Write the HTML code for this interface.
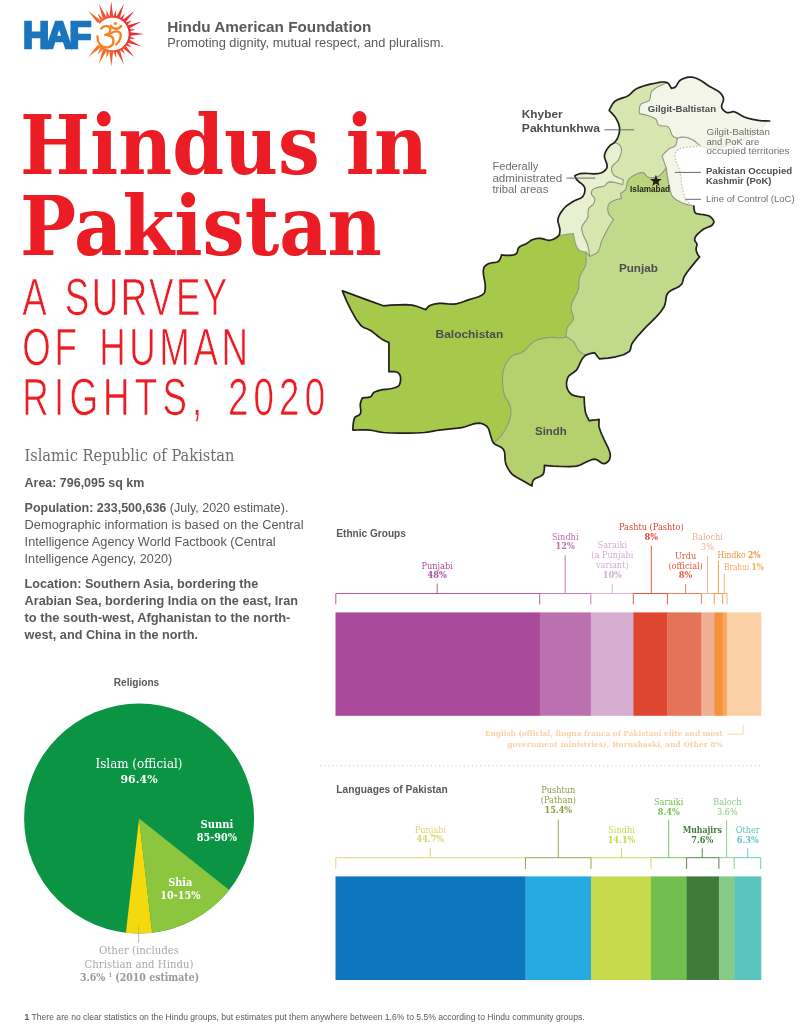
<!DOCTYPE html>
<html lang="en"><head><meta charset="utf-8"><title>Hindus in Pakistan - A Survey of Human Rights, 2020</title>
<style>html,body{margin:0;padding:0;background:#fff}svg{display:block}text{white-space:pre}</style></head><body>
<svg width="805" height="1024" viewBox="0 0 805 1024">
<rect width="805" height="1024" fill="#fff"/>
<defs><linearGradient id="sun" gradientUnits="userSpaceOnUse" x1="90" y1="44" x2="142" y2="26"><stop offset="0" stop-color="#F47B20"/><stop offset="0.5" stop-color="#EF4B33"/><stop offset="1" stop-color="#EC1B3B"/></linearGradient></defs>
<path d="M128.8 35.9 L144.1 34.0 L128.8 32.1ZM128.8 32.0 L135.4 29.2 L128.2 29.2ZM128.2 29.1 L141.6 21.4 L126.7 25.5ZM126.7 25.4 L131.8 20.3 L125.1 23.1ZM125.0 23.0 L134.5 10.8 L122.3 20.3ZM122.2 20.2 L125.0 13.5 L119.9 18.6ZM119.8 18.6 L123.9 3.7 L116.2 17.1ZM116.1 17.1 L116.1 9.9 L113.3 16.5ZM113.2 16.5 L111.3 1.2 L109.4 16.5ZM109.3 16.5 L106.5 9.9 L106.5 17.1ZM106.4 17.1 L98.7 3.7 L102.8 18.6ZM102.7 18.6 L97.6 13.5 L100.4 20.2ZM100.3 20.3 L88.1 10.8 L97.6 23.0ZM97.6 45.0 L88.1 57.2 L100.3 47.7ZM100.4 47.8 L97.6 54.5 L102.7 49.4ZM102.8 49.4 L98.7 64.3 L106.4 50.9ZM106.5 50.9 L106.5 58.1 L109.3 51.5ZM109.4 51.5 L111.3 66.8 L113.2 51.5ZM113.3 51.5 L116.1 58.1 L116.1 50.9ZM116.2 50.9 L123.9 64.3 L119.8 49.4ZM119.9 49.4 L125.0 54.5 L122.2 47.8ZM122.3 47.7 L134.5 57.2 L125.0 45.0ZM125.1 44.9 L131.8 47.7 L126.7 42.6ZM126.7 42.5 L141.6 46.6 L128.2 38.9ZM128.2 38.8 L135.4 38.8 L128.8 36.0Z" fill="url(#sun)"/>
<path d="M99.1 23.1 A17.3 17.3 0 1 1 99.1 44.9" fill="none" stroke="url(#sun)" stroke-width="2"/>
<g fill="none" stroke="#F5821F" stroke-width="2.3" stroke-linecap="round" stroke-linejoin="round"><path d="M101.3 28.6 C103.5 25.2 110.3 25.2 110.3 29.8 C110.3 33 107.3 34.6 105.2 34.8 C110.8 34.4 114.2 37.5 113.4 42 C112.4 48 103.8 49.3 99.9 44.5 C98.2 42.3 97.4 39.5 97.4 36.4"/><path d="M108.6 35.2 C111.2 32.2 116.6 30 119.6 32.3 C121.8 34.6 120.8 40.4 116.2 44.4"/><path d="M110.8 25.8 C113 29.7 118.6 29.7 121.2 26"/></g>
<circle cx="115.4" cy="23.5" r="1.5" fill="#F5821F"/>
<text x="22.9" y="48.3" font-family='"Liberation Sans", "DejaVu Sans", sans-serif' font-size="36.3" font-weight="bold" fill="#1B75BC" stroke="#1B75BC" stroke-width="2.4" stroke-linejoin="miter" letter-spacing="-3">HAF</text>
<text x="167.3" y="32.4" font-family='"Liberation Sans", "DejaVu Sans", sans-serif' font-size="14" font-weight="bold" fill="#58595B" textLength="204" lengthAdjust="spacingAndGlyphs">Hindu American Foundation</text>
<text x="167.3" y="47.3" font-family='"Liberation Sans", "DejaVu Sans", sans-serif' font-size="12.5" font-weight="normal" fill="#58595B" textLength="276.6" lengthAdjust="spacingAndGlyphs">Promoting dignity, mutual respect, and pluralism.</text>
<text x="19.9" y="173.5" font-family='"DejaVu Serif", "Liberation Serif", serif' font-size="83" font-weight="bold" fill="#EB1C24" textLength="408" lengthAdjust="spacingAndGlyphs">Hindus in</text>
<text x="19.9" y="255.3" font-family='"DejaVu Serif", "Liberation Serif", serif' font-size="83" font-weight="bold" fill="#EB1C24" textLength="362" lengthAdjust="spacingAndGlyphs">Pakistan</text>
<text transform="translate(22.3 314.6) scale(0.715 1)" font-family='"Liberation Sans", "DejaVu Sans", sans-serif' font-size="51.3" fill="#EB1C24" stroke="#fff" stroke-width="0.7" letter-spacing="2" word-spacing="7" textLength="288.7" lengthAdjust="spacing">A SURVEY</text>
<text transform="translate(22.3 364.8) scale(0.715 1)" font-family='"Liberation Sans", "DejaVu Sans", sans-serif' font-size="51.3" fill="#EB1C24" stroke="#fff" stroke-width="0.7" letter-spacing="2" word-spacing="7" textLength="317.6" lengthAdjust="spacing">OF HUMAN</text>
<text transform="translate(22.3 415.4) scale(0.715 1)" font-family='"Liberation Sans", "DejaVu Sans", sans-serif' font-size="51.3" fill="#EB1C24" stroke="#fff" stroke-width="0.7" letter-spacing="2" word-spacing="7" textLength="425.5" lengthAdjust="spacing">RIGHTS, 2020</text>
<text transform="translate(24.4 461.4) scale(0.893 1)" font-family='"DejaVu Serif", "Liberation Serif", serif' font-size="16.4" font-weight="normal" fill="#6D6E71" text-anchor="start">Islamic Republic of Pakistan</text>
<text x="24.6" y="486.6" font-family='"Liberation Sans", "DejaVu Sans", sans-serif' font-size="12.5" font-weight="bold" fill="#58595B" textLength="119.7" lengthAdjust="spacingAndGlyphs">Area: 796,095 sq km</text>
<text x="24.6" y="512.1" font-family='"Liberation Sans", "DejaVu Sans", sans-serif' font-size="12.5" fill="#58595B"><tspan font-weight="bold">Population: 233,500,636</tspan><tspan font-weight="normal"> (July, 2020 estimate).</tspan></text>
<text x="24.6" y="529.3" font-family='"Liberation Sans", "DejaVu Sans", sans-serif' font-size="12.5" font-weight="normal" fill="#58595B" textLength="279" lengthAdjust="spacingAndGlyphs">Demographic information is based on the Central</text>
<text x="24.6" y="546.1" font-family='"Liberation Sans", "DejaVu Sans", sans-serif' font-size="12.5" font-weight="normal" fill="#58595B" textLength="251" lengthAdjust="spacingAndGlyphs">Intelligence Agency World Factbook (Central</text>
<text x="24.6" y="563.2" font-family='"Liberation Sans", "DejaVu Sans", sans-serif' font-size="12.5" font-weight="normal" fill="#58595B" textLength="147.6" lengthAdjust="spacingAndGlyphs">Intelligence Agency, 2020)</text>
<text x="24.6" y="587.9" font-family='"Liberation Sans", "DejaVu Sans", sans-serif' font-size="12.5" font-weight="bold" fill="#58595B" textLength="233.7" lengthAdjust="spacingAndGlyphs">Location: Southern Asia, bordering the</text>
<text x="24.6" y="605.1" font-family='"Liberation Sans", "DejaVu Sans", sans-serif' font-size="12.5" font-weight="bold" fill="#58595B" textLength="273.5" lengthAdjust="spacingAndGlyphs">Arabian Sea, bordering India on the east, Iran</text>
<text x="24.6" y="621.9" font-family='"Liberation Sans", "DejaVu Sans", sans-serif' font-size="12.5" font-weight="bold" fill="#58595B" textLength="265.7" lengthAdjust="spacingAndGlyphs">to the south-west, Afghanistan to the north-</text>
<text x="24.6" y="638.9" font-family='"Liberation Sans", "DejaVu Sans", sans-serif' font-size="12.5" font-weight="bold" fill="#58595B" textLength="173.4" lengthAdjust="spacingAndGlyphs">west, and China in the north.</text>
<circle cx="139.1" cy="818.5" r="115" fill="#0B9444"/>
<path d="M139.1 818.5 L125.88 932.74 A115 115 0 0 0 152.12 932.76 Z" fill="#F5D90F"/>
<path d="M139.1 818.5 L152.12 932.76 A115 115 0 0 0 229.22 889.93 Z" fill="#8CC63F"/>
<text x="136.5" y="685.8" font-family='"Liberation Sans", "DejaVu Sans", sans-serif' font-size="10.5" font-weight="bold" fill="#58595B" text-anchor="middle" textLength="45.5" lengthAdjust="spacingAndGlyphs">Religions</text>
<text transform="translate(139 768) scale(0.87 1)" font-family='"DejaVu Serif", "Liberation Serif", serif' font-size="13.7" font-weight="normal" fill="#fff" text-anchor="middle">Islam (official)</text>
<text transform="translate(139 783) scale(0.93 1)" font-family='"DejaVu Serif", "Liberation Serif", serif' font-size="11.8" font-weight="bold" fill="#fff" text-anchor="middle">96.4%</text>
<text transform="translate(216.9 827.6) scale(0.91 1)" font-family='"DejaVu Serif", "Liberation Serif", serif' font-size="11" font-weight="bold" fill="#fff" text-anchor="middle">Sunni</text>
<text transform="translate(216.9 840.6) scale(0.88 1)" font-family='"DejaVu Serif", "Liberation Serif", serif' font-size="11" font-weight="bold" fill="#fff" text-anchor="middle">85-90%</text>
<text transform="translate(180.3 885.6) scale(0.89 1)" font-family='"DejaVu Serif", "Liberation Serif", serif' font-size="11" font-weight="bold" fill="#fff" text-anchor="middle">Shia</text>
<text transform="translate(180.3 898.6) scale(0.88 1)" font-family='"DejaVu Serif", "Liberation Serif", serif' font-size="11" font-weight="bold" fill="#fff" text-anchor="middle">10-15%</text>
<path d="M138.6 925.7 V943" stroke="#B9AF85" stroke-width="0.8" fill="none"/>
<text transform="translate(139 954.4) scale(0.91 1)" font-family='"DejaVu Serif", "Liberation Serif", serif' font-size="11.2" font-weight="normal" fill="#A7A9AC" text-anchor="middle">Other (includes</text>
<text transform="translate(139 967.5) scale(0.91 1)" font-family='"DejaVu Serif", "Liberation Serif", serif' font-size="11.2" font-weight="normal" fill="#A7A9AC" text-anchor="middle">Christian and Hindu)</text>
<text transform="translate(139.5 980.6) scale(0.87 1)" font-family='"DejaVu Serif", "Liberation Serif", serif' font-size="10.8" font-weight="bold" fill="#96989B" text-anchor="middle">3.6% <tspan font-size="6" dy="-3.5">1</tspan><tspan dy="3.5"> (2010 estimate)</tspan></text>
<rect x="335.50" y="612.4" width="204.54" height="103.39999999999998" fill="#AA4A9B"/>
<rect x="539.74" y="612.4" width="51.36" height="103.39999999999998" fill="#BB70AF"/>
<rect x="590.80" y="612.4" width="42.85" height="103.39999999999998" fill="#D6ADD1"/>
<rect x="633.35" y="612.4" width="34.34" height="103.39999999999998" fill="#DF4632"/>
<rect x="667.39" y="612.4" width="34.34" height="103.39999999999998" fill="#E57358"/>
<rect x="701.43" y="612.4" width="13.07" height="103.39999999999998" fill="#F0AE95"/>
<rect x="714.19" y="612.4" width="8.81" height="103.39999999999998" fill="#F6923B"/>
<rect x="722.70" y="612.4" width="4.55" height="103.39999999999998" fill="#F9A961"/>
<rect x="726.96" y="612.4" width="34.34" height="103.39999999999998" fill="#FCD0A6"/>
<rect x="335.50" y="876.4" width="190.31" height="103.60000000000002" fill="#0E76BC"/>
<rect x="525.51" y="876.4" width="65.76" height="103.60000000000002" fill="#27AAE1"/>
<rect x="590.97" y="876.4" width="60.24" height="103.60000000000002" fill="#C5DA4B"/>
<rect x="650.91" y="876.4" width="36.01" height="103.60000000000002" fill="#72BF4F"/>
<rect x="686.61" y="876.4" width="32.61" height="103.60000000000002" fill="#3F7B3B"/>
<rect x="718.92" y="876.4" width="15.60" height="103.60000000000002" fill="#87C987"/>
<rect x="734.22" y="876.4" width="27.08" height="103.60000000000002" fill="#5BC4BE"/>
<text x="336.3" y="536.8" font-family='"Liberation Sans", "DejaVu Sans", sans-serif' font-size="10.5" font-weight="bold" fill="#58595B" textLength="69.6" lengthAdjust="spacingAndGlyphs">Ethnic Groups</text>
<path d="M335.8 604.3 V593.5 H539.7 V604.3 M437.2 593.5 V583.7" fill="none" stroke="#AA4A9B" stroke-width="0.9"/>
<text transform="translate(437.2 568.6) scale(0.88 1)" font-family='"DejaVu Serif", "Liberation Serif", serif' font-size="9.3" font-weight="normal" fill="#AA4A9B" text-anchor="middle">Punjabi</text>
<text transform="translate(437.2 577.8) scale(0.88 1)" font-family='"DejaVu Serif", "Liberation Serif", serif' font-size="9.3" font-weight="bold" fill="#AA4A9B" text-anchor="middle">48%</text>
<path d="M539.7 593.5 H590.8 V604.3 M565.2 593.5 V555.2" fill="none" stroke="#BB70AF" stroke-width="0.9"/>
<text transform="translate(565.2 540.1) scale(0.88 1)" font-family='"DejaVu Serif", "Liberation Serif", serif' font-size="9.3" font-weight="normal" fill="#BB70AF" text-anchor="middle">Sindhi</text>
<text transform="translate(565.2 549.2) scale(0.88 1)" font-family='"DejaVu Serif", "Liberation Serif", serif' font-size="9.3" font-weight="bold" fill="#BB70AF" text-anchor="middle">12%</text>
<path d="M590.8 593.5 H633.3 M612.3 593.5 V584" fill="none" stroke="#D6ADD1" stroke-width="0.9"/>
<text transform="translate(612.3 547.8) scale(0.88 1)" font-family='"DejaVu Serif", "Liberation Serif", serif' font-size="9.3" font-weight="normal" fill="#D6ADD1" text-anchor="middle">Saraiki</text>
<text transform="translate(612.3 558.1) scale(0.88 1)" font-family='"DejaVu Serif", "Liberation Serif", serif' font-size="9.3" font-weight="normal" fill="#D6ADD1" text-anchor="middle">(a Punjabi</text>
<text transform="translate(612.3 568.4) scale(0.88 1)" font-family='"DejaVu Serif", "Liberation Serif", serif' font-size="9.3" font-weight="normal" fill="#D6ADD1" text-anchor="middle">variant)</text>
<text transform="translate(612.3 578.2) scale(0.88 1)" font-family='"DejaVu Serif", "Liberation Serif", serif' font-size="9.3" font-weight="bold" fill="#D6ADD1" text-anchor="middle">10%</text>
<path d="M633.3 604.3 V593.5 H667.4 V604.3 M651.3 593.5 V546" fill="none" stroke="#DF4632" stroke-width="0.9"/>
<text transform="translate(651.3 530.4) scale(0.88 1)" font-family='"DejaVu Serif", "Liberation Serif", serif' font-size="9.3" font-weight="normal" fill="#DF4632" text-anchor="middle">Pashtu (Pashto)</text>
<text transform="translate(651.3 539.5) scale(0.88 1)" font-family='"DejaVu Serif", "Liberation Serif", serif' font-size="9.3" font-weight="bold" fill="#DF4632" text-anchor="middle">8%</text>
<path d="M667.4 593.5 H701.4 V604.3 M685.6 593.5 V584" fill="none" stroke="#E57358" stroke-width="0.9"/>
<text transform="translate(685.6 558.9) scale(0.88 1)" font-family='"DejaVu Serif", "Liberation Serif", serif' font-size="9.3" font-weight="normal" fill="#E2573F" text-anchor="middle">Urdu</text>
<text transform="translate(685.6 568.9) scale(0.88 1)" font-family='"DejaVu Serif", "Liberation Serif", serif' font-size="9.3" font-weight="normal" fill="#E2573F" text-anchor="middle">(official)</text>
<text transform="translate(685.6 578.4) scale(0.88 1)" font-family='"DejaVu Serif", "Liberation Serif", serif' font-size="9.3" font-weight="bold" fill="#E2573F" text-anchor="middle">8%</text>
<path d="M701.4 593.5 H714.2 M707.5 593.5 V556" fill="none" stroke="#F0AE95" stroke-width="0.9"/>
<text transform="translate(707.5 539.8) scale(0.88 1)" font-family='"DejaVu Serif", "Liberation Serif", serif' font-size="9.3" font-weight="normal" fill="#F0AE95" text-anchor="middle">Balochi</text>
<text transform="translate(707.5 549.7) scale(0.88 1)" font-family='"DejaVu Serif", "Liberation Serif", serif' font-size="9.3" font-weight="normal" fill="#F0AE95" text-anchor="middle">3%</text>
<path d="M714.2 604.3 V593.5 H722.7 V604.3 M718.4 593.5 V561" fill="none" stroke="#F6923B" stroke-width="0.9"/>
<text transform="translate(717.4 558.4) scale(0.82 1)" font-family='"DejaVu Serif", "Liberation Serif", serif' font-size="9.3" font-weight="normal" fill="#F6923B" text-anchor="start">Hindko <tspan font-weight="bold">2%</tspan></text>
<path d="M722.7 593.5 H727.0 V604.3 M724.3 593.5 V573.4" fill="none" stroke="#F9A961" stroke-width="0.9"/>
<text transform="translate(724.0 570.4) scale(0.795 1)" font-family='"DejaVu Serif", "Liberation Serif", serif' font-size="9.3" font-weight="normal" fill="#F9A961" text-anchor="start">Brahui <tspan font-weight="bold">1%</tspan></text>
<text x="722.7" y="736.1" font-family='"DejaVu Serif", "Liberation Serif", serif' font-size="8.2" font-weight="bold" fill="#FCD0A6" text-anchor="end" textLength="237.8" lengthAdjust="spacingAndGlyphs">English (official, lingua franca of Pakistani elite and most</text>
<text x="722.7" y="746.5" font-family='"DejaVu Serif", "Liberation Serif", serif' font-size="8.2" font-weight="bold" fill="#FCD0A6" text-anchor="end" textLength="215.4" lengthAdjust="spacingAndGlyphs">government ministries), Burushaski, and Other 8%</text>
<path d="M727.2 734.2 H743.2 V724.9" fill="none" stroke="#FCD0A6" stroke-width="0.9"/>
<path d="M320.2 765.7 H763" fill="none" stroke="#BCE3D0" stroke-width="1.2" stroke-dasharray="1.1 3"/>
<text x="336.3" y="793.4" font-family='"Liberation Sans", "DejaVu Sans", sans-serif' font-size="10.5" font-weight="bold" fill="#58595B" textLength="111.4" lengthAdjust="spacingAndGlyphs">Languages of Pakistan</text>
<path d="M335.8 868.9 V857.7 H525.5 M430.3 857.7 V848" fill="none" stroke="#DDD36A" stroke-width="0.9"/>
<text transform="translate(430.3 832.9) scale(0.88 1)" font-family='"DejaVu Serif", "Liberation Serif", serif' font-size="9.3" font-weight="normal" fill="#DDD36A" text-anchor="middle">Punjabi</text>
<text transform="translate(430.3 842.1) scale(0.88 1)" font-family='"DejaVu Serif", "Liberation Serif", serif' font-size="9.3" font-weight="bold" fill="#DDD36A" text-anchor="middle">44.7%</text>
<path d="M525.5 868.9 V857.7 H591.0 V868.9 M558.3 857.7 V819.5" fill="none" stroke="#8E9B3F" stroke-width="0.9"/>
<text transform="translate(558.3 792.9) scale(0.88 1)" font-family='"DejaVu Serif", "Liberation Serif", serif' font-size="9.3" font-weight="normal" fill="#8E9B3F" text-anchor="middle">Pushtun</text>
<text transform="translate(558.3 803.1) scale(0.88 1)" font-family='"DejaVu Serif", "Liberation Serif", serif' font-size="9.3" font-weight="normal" fill="#8E9B3F" text-anchor="middle">(Pathan)</text>
<text transform="translate(558.3 812.8) scale(0.88 1)" font-family='"DejaVu Serif", "Liberation Serif", serif' font-size="9.3" font-weight="bold" fill="#8E9B3F" text-anchor="middle">15.4%</text>
<path d="M591.0 857.7 H650.9 V868.9 M621.5 857.7 V848.3" fill="none" stroke="#C5DA4B" stroke-width="0.9"/>
<text transform="translate(621.5 832.6) scale(0.88 1)" font-family='"DejaVu Serif", "Liberation Serif", serif' font-size="9.3" font-weight="normal" fill="#C5DA4B" text-anchor="middle">Sindhi</text>
<text transform="translate(621.5 842.5) scale(0.88 1)" font-family='"DejaVu Serif", "Liberation Serif", serif' font-size="9.3" font-weight="bold" fill="#C5DA4B" text-anchor="middle">14.1%</text>
<path d="M650.9 857.7 H686.6 M668.7 857.7 V819.7" fill="none" stroke="#72BF4F" stroke-width="0.9"/>
<text transform="translate(668.7 804.8) scale(0.88 1)" font-family='"DejaVu Serif", "Liberation Serif", serif' font-size="9.3" font-weight="normal" fill="#72BF4F" text-anchor="middle">Saraiki</text>
<text transform="translate(668.7 814.5) scale(0.88 1)" font-family='"DejaVu Serif", "Liberation Serif", serif' font-size="9.3" font-weight="bold" fill="#72BF4F" text-anchor="middle">8.4%</text>
<path d="M686.6 868.9 V857.7 H718.9 V868.9 M702.2 857.7 V848.3" fill="none" stroke="#3F7B3B" stroke-width="0.9"/>
<text transform="translate(702.2 832.6) scale(0.836 1)" font-family='"DejaVu Serif", "Liberation Serif", serif' font-size="9.3" font-weight="bold" fill="#3F7B3B" text-anchor="middle">Muhajirs</text>
<text transform="translate(702.2 842.5) scale(0.88 1)" font-family='"DejaVu Serif", "Liberation Serif", serif' font-size="9.3" font-weight="bold" fill="#3F7B3B" text-anchor="middle">7.6%</text>
<path d="M718.9 857.7 H734.2 V868.9 M726.6 857.7 V819.7" fill="none" stroke="#87C987" stroke-width="0.9"/>
<text transform="translate(727.3 804.8) scale(0.88 1)" font-family='"DejaVu Serif", "Liberation Serif", serif' font-size="9.3" font-weight="normal" fill="#87C987" text-anchor="middle">Baloch</text>
<text transform="translate(727.3 814.5) scale(0.88 1)" font-family='"DejaVu Serif", "Liberation Serif", serif' font-size="9.3" font-weight="normal" fill="#87C987" text-anchor="middle">3.6%</text>
<path d="M734.2 857.7 H760.7 V868.9 M747.7 857.7 V848.3" fill="none" stroke="#5BC4BE" stroke-width="0.9"/>
<text transform="translate(747.7 832.6) scale(0.88 1)" font-family='"DejaVu Serif", "Liberation Serif", serif' font-size="9.3" font-weight="normal" fill="#5BC4BE" text-anchor="middle">Other</text>
<text transform="translate(747.7 842.5) scale(0.88 1)" font-family='"DejaVu Serif", "Liberation Serif", serif' font-size="9.3" font-weight="bold" fill="#5BC4BE" text-anchor="middle">6.3%</text>
<text x="24.6" y="1020" font-family='"Liberation Sans", "DejaVu Sans", sans-serif' font-size="8.6" fill="#58595B" textLength="560" lengthAdjust="spacingAndGlyphs"><tspan font-weight="bold">1</tspan> There are no clear statistics on the Hindu groups, but estimates put them anywhere between 1.6% to 5.5% according to Hindu community groups.</text>
<g id="map">
<path d="M493.5 443.0 L492.8 441.9 L492.3 440.7 L491.8 439.3 L491.4 438.0 L491.0 436.8 L490.4 434.9 L489.8 432.7 L489.2 430.5 L488.4 428.5 L487.3 426.9 L486.1 425.8 L484.7 424.9 L483.0 424.1 L481.4 423.5 L479.8 423.2 L476.3 423.3 L472.6 424.2 L468.8 425.5 L465.2 426.7 L461.7 427.6 L457.5 428.2 L452.9 428.7 L448.2 429.2 L443.6 429.6 L439.3 430.1 L436.5 430.5 L433.4 431.1 L430.3 431.7 L427.3 432.2 L424.4 432.5 L416.6 433.0 L408.2 433.2 L399.6 433.2 L391.2 433.0 L383.4 432.5 L380.8 432.1 L378.0 431.6 L375.2 431.0 L372.4 430.5 L369.8 430.1 L366.1 429.9 L361.7 429.9 L357.4 430.0 L354.2 430.1 L352.9 430.1 L352.9 429.1 L353.0 426.6 L353.3 423.4 L353.8 420.1 L354.8 417.6 L355.7 416.7 L356.9 416.1 L358.3 415.5 L359.5 414.8 L360.3 413.9 L360.8 412.1 L360.8 410.1 L360.5 408.0 L360.3 405.9 L360.3 404.0 L360.6 402.6 L361.1 401.0 L361.7 399.4 L362.1 398.3 L362.3 397.8 L363.0 397.8 L364.7 397.7 L367.0 397.6 L369.2 397.2 L371.0 396.5 L371.9 395.4 L372.6 394.0 L373.5 392.8 L374.6 392.1 L375.8 391.5 L377.1 391.1 L378.5 390.6 L379.7 390.3 L382.5 389.7 L385.6 389.3 L388.8 389.0 L391.8 388.5 L394.6 387.8 L395.8 387.4 L397.1 386.8 L398.2 386.2 L399.1 385.3 L399.9 383.6 L400.4 381.6 L400.6 379.4 L400.5 377.3 L400.1 375.4 L399.4 374.1 L398.3 373.0 L397.1 372.2 L395.4 371.7 L393.2 371.6 L391.1 371.6 L389.5 371.7 L388.9 371.7 L388.9 368.7 L388.9 361.4 L388.9 352.7 L388.9 345.4 L388.9 342.4 L388.4 342.2 L387.1 341.7 L385.4 340.9 L383.6 340.1 L382.2 339.4 L380.0 337.9 L377.7 336.0 L375.4 334.1 L373.2 332.3 L371.0 330.7 L369.1 329.7 L367.0 328.8 L364.8 328.0 L362.8 326.9 L361.1 325.7 L355.9 318.9 L350.9 309.9 L346.5 300.8 L343.5 293.7 L342.4 290.9 L346.7 292.4 L356.8 296.1 L369.0 300.6 L379.1 304.3 L383.4 305.8 L385.6 305.6 L391.0 305.2 L398.3 304.8 L405.8 304.7 L412.0 305.1 L415.1 305.8 L418.7 307.0 L422.1 308.2 L424.7 309.2 L425.7 309.6 L426.1 309.1 L427.0 308.0 L428.2 306.7 L429.4 305.8 L431.2 305.0 L433.2 304.4 L435.3 303.9 L437.4 303.6 L439.3 303.4 L442.1 303.4 L445.2 303.6 L448.3 304.0 L451.4 304.2 L454.2 304.1 L457.1 303.6 L460.2 302.7 L463.3 301.7 L466.3 300.6 L469.1 299.6 L472.1 298.7 L475.4 297.8 L478.7 296.7 L481.7 295.3 L484.0 293.4 L484.6 292.4 L484.9 291.1 L485.1 289.8 L485.2 288.4 L485.3 287.2 L485.1 283.4 L484.3 279.2 L483.5 274.9 L483.2 270.9 L484.0 267.3 L484.7 266.3 L485.6 265.5 L486.7 264.8 L487.9 264.1 L489.0 263.6 L490.9 263.0 L493.0 262.7 L495.2 262.5 L497.2 262.0 L498.9 261.1 L499.7 259.9 L500.4 258.3 L501.0 256.7 L501.3 255.4 L501.4 254.9 L502.0 255.0 L503.4 255.1 L505.3 255.3 L507.3 255.4 L508.9 255.4 L510.4 255.3 L512.0 255.1 L513.6 254.9 L515.1 254.4 L516.3 253.7 L517.0 252.7 L517.4 251.4 L517.8 249.9 L518.2 248.6 L518.8 247.5 L520.0 246.5 L521.5 245.7 L523.2 245.0 L524.8 244.4 L526.3 243.7 L527.5 242.9 L528.7 242.1 L529.9 241.1 L531.2 240.3 L532.4 239.7 L533.8 239.2 L535.3 238.8 L536.9 238.5 L538.5 238.4 L540.0 238.3 L541.9 238.6 L543.9 239.1 L546.0 239.8 L548.0 240.3 L549.9 240.3 L551.8 239.8 L553.9 239.1 L555.8 238.0 L557.6 236.7 L558.9 235.3 L560.4 235.1 L564.0 234.7 L568.3 234.1 L571.9 233.7 L573.4 233.5 L573.6 234.8 L574.1 238.1 L575.1 242.4 L576.5 246.5 L578.4 249.6 L579.8 250.5 L581.7 251.2 L583.7 251.7 L585.2 252.0 L585.8 252.1 L585.9 253.0 L586.0 255.4 L586.2 258.6 L586.1 261.8 L585.8 264.5 L584.9 267.0 L583.5 269.5 L582.0 272.0 L580.6 274.5 L579.6 277.0 L579.2 279.3 L579.0 281.9 L578.9 284.5 L578.8 287.1 L578.4 289.4 L577.1 292.8 L575.3 296.3 L573.4 299.8 L571.8 303.3 L570.9 306.8 L571.1 309.2 L571.8 311.7 L572.7 314.3 L573.4 316.8 L573.4 319.2 L572.6 321.0 L571.3 322.8 L569.7 324.5 L568.2 326.2 L567.2 327.9 L566.7 329.7 L566.4 332.0 L566.1 334.2 L566.0 335.9 L566.0 336.6 L565.4 337.0 L564.3 337.5 L561.5 337.9 L558.5 337.8 L555.3 337.6 L552.2 337.4 L549.4 337.5 L546.5 337.9 L543.4 338.4 L540.2 339.1 L537.2 340.0 L534.5 341.2 L531.9 343.0 L529.4 345.4 L527.0 348.0 L524.5 350.5 L522.0 352.4 L520.2 353.2 L518.1 353.9 L515.9 354.4 L513.8 355.1 L512.1 356.1 L510.1 357.9 L508.3 360.0 L506.6 362.4 L505.2 364.9 L504.2 367.3 L503.1 372.4 L502.5 378.0 L502.6 383.8 L503.2 389.5 L504.2 394.6 L505.0 396.6 L506.2 398.6 L507.5 400.6 L508.7 402.5 L509.6 404.5 L510.1 406.4 L510.6 408.4 L510.9 410.5 L511.0 412.6 L510.9 414.5 L510.0 418.5 L508.5 422.7 L506.6 426.9 L504.4 430.8 L502.2 434.3 L500.5 436.4 L498.2 438.7 L496.0 440.8 L494.2 442.4Z" fill="#A6C84B" stroke="#A6C84B" stroke-width="0.6" stroke-linejoin="round"/>
<path d="M585.8 355.2 L584.9 355.9 L584.0 356.8 L583.1 357.8 L582.4 358.8 L581.7 359.8 L580.7 361.7 L579.7 363.8 L578.8 365.9 L577.8 368.0 L576.7 369.8 L575.1 371.3 L573.2 372.7 L571.2 374.1 L569.3 375.5 L568.0 377.2 L567.3 379.0 L566.8 381.0 L566.5 383.1 L566.5 385.2 L566.8 387.1 L567.3 388.7 L568.1 390.4 L569.2 392.1 L570.4 393.5 L571.7 394.6 L574.2 395.7 L577.5 396.4 L580.7 396.8 L583.2 397.0 L584.2 397.1 L584.2 398.2 L584.3 401.1 L584.5 404.9 L584.9 408.8 L585.4 412.0 L586.0 414.0 L587.0 416.3 L588.0 418.4 L588.8 420.1 L589.1 420.7 L590.1 420.6 L592.6 420.2 L595.6 419.9 L598.1 419.5 L599.1 419.4 L599.1 420.0 L599.0 421.4 L598.9 423.3 L598.9 425.3 L599.1 426.9 L599.8 429.3 L600.7 431.9 L601.8 434.5 L603.0 437.0 L604.0 439.3 L605.3 442.1 L606.8 445.1 L608.3 448.2 L609.5 451.2 L610.2 454.2 L610.3 455.4 L610.2 456.7 L609.9 458.1 L609.5 459.3 L609.0 460.4 L608.0 461.5 L606.8 462.6 L605.4 463.4 L604.0 463.7 L602.2 463.3 L600.5 462.2 L598.8 460.9 L597.0 459.8 L595.3 459.2 L591.6 459.7 L587.9 461.2 L584.1 463.1 L580.3 465.0 L576.7 466.1 L569.7 466.6 L561.2 466.5 L553.0 466.1 L546.8 465.6 L544.4 465.4 L544.4 466.1 L544.4 467.8 L544.2 470.1 L543.9 472.3 L543.2 474.1 L541.6 475.6 L539.4 476.7 L537.0 477.7 L534.8 478.8 L533.2 480.3 L532.6 481.8 L532.2 483.7 L532.0 485.3 L532.0 486.0 L531.2 485.6 L529.3 484.5 L526.8 483.1 L524.2 481.6 L522.0 480.3 L520.1 479.2 L517.9 478.1 L515.8 476.8 L513.8 475.5 L512.1 474.1 L510.6 472.4 L509.2 470.5 L507.9 468.4 L506.8 466.2 L505.9 464.2 L505.3 461.4 L505.0 458.2 L504.9 455.0 L504.5 451.9 L503.4 449.3 L501.8 447.8 L499.7 446.6 L497.4 445.5 L495.2 444.4 L493.5 443.0 L494.2 442.4 L496.0 440.8 L498.2 438.7 L500.5 436.4 L502.2 434.3 L504.4 430.8 L506.6 426.9 L508.5 422.7 L510.0 418.5 L510.9 414.5 L511.0 412.6 L510.9 410.5 L510.6 408.4 L510.1 406.4 L509.6 404.5 L508.7 402.5 L507.5 400.6 L506.2 398.6 L505.0 396.6 L504.2 394.6 L503.2 389.5 L502.6 383.8 L502.5 378.0 L503.1 372.4 L504.2 367.3 L505.2 364.9 L506.6 362.4 L508.3 360.0 L510.1 357.9 L512.1 356.1 L513.8 355.1 L515.9 354.4 L518.1 353.9 L520.2 353.2 L522.0 352.4 L524.5 350.5 L527.0 348.0 L529.4 345.4 L531.9 343.0 L534.5 341.2 L537.2 340.0 L540.2 339.1 L543.4 338.4 L546.5 337.9 L549.4 337.5 L552.2 337.4 L555.3 337.6 L558.5 337.8 L561.5 337.9 L564.3 337.5 L565.4 337.0 L566.0 336.6 L566.6 336.9 L568.1 337.8 L570.0 339.0 L571.9 340.3 L573.4 341.6 L574.7 343.4 L575.9 345.5 L577.0 347.7 L578.2 349.8 L579.6 351.5 L580.8 352.5 L582.5 353.5 L584.1 354.3 L585.3 355.0Z" fill="#B5D16D" stroke="#B5D16D" stroke-width="0.6" stroke-linejoin="round"/>
<path d="M693.9 206.1 L693.9 206.7 L694.0 208.1 L694.2 209.8 L694.6 211.6 L695.3 212.9 L696.5 213.6 L698.1 214.0 L699.6 214.2 L700.8 214.4 L702.1 214.5 L703.4 214.6 L704.6 214.8 L705.8 215.1 L707.2 215.4 L708.5 215.8 L709.6 216.3 L710.7 217.1 L711.8 218.1 L712.7 219.1 L713.3 220.0 L713.8 221.1 L713.9 222.2 L713.5 223.3 L712.8 224.4 L712.0 225.3 L711.1 225.9 L709.9 226.4 L708.8 226.8 L707.7 227.2 L706.6 227.7 L705.5 228.2 L704.4 228.7 L703.4 229.3 L702.4 230.0 L701.3 230.8 L700.3 231.7 L699.3 232.6 L698.4 233.4 L697.6 234.2 L696.7 235.1 L695.9 236.1 L695.3 237.1 L694.9 238.1 L694.7 239.2 L694.7 240.2 L695.3 241.5 L696.3 242.7 L696.9 244.0 L696.9 245.2 L696.6 246.4 L696.2 247.7 L696.1 248.9 L696.2 250.1 L696.5 251.5 L696.9 252.7 L697.4 253.9 L698.2 255.2 L699.1 256.4 L699.6 257.0 L698.3 258.4 L695.1 262.1 L691.1 267.1 L687.0 272.3 L684.0 277.0 L683.5 278.4 L683.1 280.0 L682.7 281.6 L682.2 283.1 L681.5 284.4 L679.2 286.4 L676.2 288.0 L673.0 289.4 L670.0 291.1 L667.8 293.1 L666.6 295.5 L666.0 298.3 L665.6 301.4 L665.0 304.3 L664.1 306.8 L660.6 312.0 L656.0 317.1 L651.0 322.1 L646.1 326.9 L641.7 331.6 L639.7 333.9 L637.5 336.3 L635.4 338.9 L633.4 341.5 L631.8 344.0 L631.3 345.4 L630.9 347.1 L630.6 348.8 L630.1 350.3 L629.3 351.5 L623.6 354.7 L615.9 356.8 L608.0 358.1 L601.9 358.7 L599.5 358.9 L599.0 358.3 L597.7 356.7 L596.3 354.9 L595.0 353.3 L594.5 352.7 L593.8 352.8 L592.1 353.2 L589.9 353.7 L587.6 354.4 L585.8 355.2 L585.3 355.0 L584.1 354.3 L582.5 353.5 L580.8 352.5 L579.6 351.5 L578.2 349.8 L577.0 347.7 L575.9 345.5 L574.7 343.4 L573.4 341.6 L571.9 340.3 L570.0 339.0 L568.1 337.8 L566.6 336.9 L566.0 336.6 L566.0 335.9 L566.1 334.2 L566.4 332.0 L566.7 329.7 L567.2 327.9 L568.2 326.2 L569.7 324.5 L571.3 322.8 L572.6 321.0 L573.4 319.2 L573.4 316.8 L572.7 314.3 L571.8 311.7 L571.1 309.2 L570.9 306.8 L571.8 303.3 L573.4 299.8 L575.3 296.3 L577.1 292.8 L578.4 289.4 L578.8 287.1 L578.9 284.5 L579.0 281.9 L579.2 279.3 L579.6 277.0 L580.6 274.5 L582.0 272.0 L583.5 269.5 L584.9 267.0 L585.8 264.5 L586.1 261.8 L586.2 258.6 L586.0 255.4 L585.9 253.0 L585.8 252.1 L589.7 256.2 L590.4 256.0 L592.0 255.4 L594.1 254.5 L596.1 253.4 L597.6 252.2 L598.8 250.4 L599.6 248.2 L600.3 245.8 L600.9 243.4 L601.6 241.3 L602.8 238.6 L604.2 235.7 L605.7 232.8 L607.2 230.0 L608.6 227.4 L609.6 225.6 L610.9 223.5 L612.2 221.5 L613.1 220.0 L613.5 219.4 L613.1 219.0 L612.0 217.9 L610.7 216.5 L609.4 214.9 L608.6 213.5 L608.1 211.8 L607.8 209.9 L607.8 208.0 L608.0 206.1 L608.6 204.5 L609.7 203.2 L611.2 202.0 L613.0 201.1 L614.8 200.3 L616.5 199.6 L617.9 199.2 L619.5 198.9 L620.9 198.7 L621.5 198.6 L621.3 197.8 L621.0 196.1 L620.7 194.4 L620.5 193.6 L620.9 193.3 L621.9 192.7 L623.3 191.7 L624.6 190.6 L625.5 189.6 L626.3 187.8 L626.8 185.7 L627.1 183.5 L627.6 181.4 L628.5 179.7 L629.9 178.2 L631.6 176.8 L633.5 175.6 L635.5 174.5 L637.4 173.7 L638.5 173.3 L639.7 172.9 L641.0 172.6 L642.3 172.5 L643.4 172.7 L644.5 173.4 L645.4 174.6 L646.3 175.8 L647.3 176.7 L648.5 177.2 L650.0 177.6 L651.3 177.7 L652.9 177.6 L654.6 177.4 L656.3 177.0 L657.9 176.4 L659.3 175.7 L661.0 174.2 L662.9 172.2 L664.5 170.1 L665.7 168.5 L666.2 167.8 L666.4 169.2 L666.9 172.8 L667.6 177.5 L668.5 182.4 L669.3 186.5 L669.7 188.5 L670.2 190.6 L670.8 192.8 L671.5 194.8 L672.5 196.5 L674.2 198.2 L676.2 199.8 L678.5 201.1 L680.9 202.3 L683.1 203.3 L685.4 204.1 L688.2 204.9 L691.0 205.5 L693.1 205.9Z" fill="#C0D98B" stroke="#C0D98B" stroke-width="0.6" stroke-linejoin="round"/>
<path d="M558.9 235.3 L559.5 234.0 L559.8 232.5 L559.9 230.9 L559.9 229.4 L559.6 227.5 L559.0 225.4 L558.4 223.3 L557.9 221.3 L557.9 219.4 L558.6 216.9 L559.8 214.3 L561.4 211.8 L563.1 209.5 L564.8 207.5 L566.5 205.9 L568.5 204.5 L570.6 203.1 L572.8 201.8 L574.8 200.6 L576.3 199.9 L578.1 199.2 L579.9 198.5 L581.5 197.7 L582.7 196.6 L583.6 195.1 L584.4 193.3 L584.8 191.3 L585.0 189.3 L584.7 187.6 L583.7 185.8 L582.1 184.2 L580.2 182.7 L578.3 181.3 L576.8 179.7 L575.9 178.2 L575.1 176.5 L574.8 175.7 L575.4 175.4 L576.7 174.8 L578.4 174.2 L579.8 173.7 L583.9 173.3 L588.5 173.5 L593.2 173.8 L597.6 173.7 L601.6 172.7 L602.9 172.0 L604.2 171.1 L605.4 170.0 L606.4 168.8 L607.0 167.5 L607.1 165.2 L606.4 162.6 L605.4 160.0 L604.6 157.4 L604.5 155.0 L605.1 153.0 L606.0 150.9 L607.2 148.9 L608.6 147.1 L610.0 145.5 L611.0 144.7 L612.2 144.0 L613.5 143.3 L614.5 142.5 L615.1 142.7 L616.6 143.2 L618.2 144.0 L619.5 144.9 L620.3 146.0 L620.9 147.2 L621.3 148.6 L621.5 149.9 L621.4 151.9 L620.9 153.9 L620.2 156.0 L619.4 158.0 L618.5 159.8 L617.3 161.4 L615.6 162.9 L613.9 164.4 L612.4 166.0 L611.6 167.8 L611.5 169.2 L611.7 170.7 L612.1 172.2 L612.7 173.5 L613.5 174.7 L615.4 176.2 L617.9 177.6 L620.6 178.7 L622.7 179.4 L623.5 179.7 L623.3 180.5 L623.0 182.2 L622.7 183.9 L622.5 184.7 L621.4 184.3 L618.8 183.5 L615.3 182.5 L611.6 181.9 L608.6 182.1 L607.5 182.7 L606.5 183.8 L605.6 184.9 L604.6 185.7 L602.4 186.6 L599.8 187.1 L597.1 187.6 L594.7 188.4 L592.7 189.6 L591.9 190.8 L591.4 192.2 L591.3 193.6 L591.7 194.6 L592.5 195.6 L593.4 196.6 L594.2 197.6 L594.7 198.6 L594.8 199.8 L594.6 201.1 L594.2 202.4 L593.7 203.5 L592.9 204.6 L591.8 205.5 L590.6 206.5 L589.5 207.4 L588.7 208.5 L588.2 210.1 L588.1 212.0 L588.1 213.9 L588.0 215.8 L587.7 217.5 L586.7 219.5 L585.3 221.4 L583.8 223.4 L582.5 225.4 L581.7 227.4 L581.6 228.5 L581.8 229.8 L582.0 231.0 L582.4 232.3 L582.7 233.4 L583.5 235.7 L584.6 238.1 L585.8 240.6 L586.9 243.0 L587.7 245.3 L588.3 247.7 L588.8 250.5 L589.3 253.3 L589.6 255.4 L589.7 256.2 L585.8 252.1 L585.2 252.0 L583.7 251.7 L581.7 251.2 L579.8 250.5 L578.4 249.6 L576.5 246.5 L575.1 242.4 L574.1 238.1 L573.6 234.8 L573.4 233.5 L571.9 233.7 L568.3 234.1 L564.0 234.7 L560.4 235.1Z" fill="#E8F0D1" stroke="#E8F0D1" stroke-width="0.6" stroke-linejoin="round"/>
<path d="M614.5 142.5 L615.3 141.6 L616.1 140.5 L616.9 139.3 L617.5 138.1 L618.0 137.0 L618.6 135.3 L619.1 133.5 L619.4 131.6 L619.6 129.7 L619.6 128.0 L619.2 126.0 L618.6 123.9 L617.8 121.9 L616.8 119.9 L615.8 118.1 L614.5 116.3 L612.8 114.2 L611.0 112.3 L609.6 110.9 L609.1 110.3 L609.5 109.6 L610.4 107.8 L611.7 105.4 L613.2 103.1 L614.7 101.4 L617.0 100.0 L619.8 98.9 L622.7 97.9 L625.6 97.0 L628.1 95.8 L629.7 94.6 L631.2 93.2 L632.7 91.6 L634.3 90.2 L635.9 89.1 L639.1 87.6 L642.7 86.2 L646.5 85.1 L650.3 84.2 L653.8 83.5 L656.4 83.0 L659.2 82.4 L662.0 82.0 L664.8 82.0 L667.2 82.6 L665.9 83.1 L662.7 84.4 L658.5 86.4 L654.5 88.8 L651.6 91.3 L650.9 92.9 L650.6 94.8 L650.4 96.8 L650.0 98.7 L649.3 100.3 L647.8 101.4 L645.9 102.1 L643.7 102.8 L641.8 103.5 L640.4 104.7 L639.7 106.5 L639.3 108.8 L639.2 111.2 L639.3 113.0 L639.3 113.7 L640.7 113.9 L644.1 114.6 L648.4 115.8 L652.8 117.3 L656.0 119.3 L656.7 120.5 L657.1 122.1 L657.5 123.6 L658.3 124.8 L660.0 125.6 L662.1 125.9 L664.4 126.0 L666.6 126.3 L668.3 127.1 L669.5 128.5 L670.3 130.4 L671.0 132.5 L671.7 134.4 L672.8 136.0 L673.9 136.8 L675.4 137.5 L676.7 138.0 L677.2 138.2 L677.2 138.8 L677.0 140.3 L676.7 142.2 L676.2 144.1 L675.5 145.5 L674.5 146.3 L673.2 146.9 L671.8 147.5 L670.5 148.0 L669.3 148.6 L667.6 150.1 L665.6 152.0 L663.8 153.9 L662.5 155.4 L662.0 156.0 L662.4 157.2 L663.5 160.2 L664.7 163.6 L665.8 166.6 L666.2 167.8 L665.7 168.5 L664.5 170.1 L662.9 172.2 L661.0 174.2 L659.3 175.7 L657.9 176.4 L656.3 177.0 L654.6 177.4 L652.9 177.6 L651.3 177.7 L650.0 177.6 L648.5 177.2 L647.3 176.7 L646.3 175.8 L645.4 174.6 L644.5 173.4 L643.4 172.7 L642.3 172.5 L641.0 172.6 L639.7 172.9 L638.5 173.3 L637.4 173.7 L635.5 174.5 L633.5 175.6 L631.6 176.8 L629.9 178.2 L628.5 179.7 L627.6 181.4 L627.1 183.5 L626.8 185.7 L626.3 187.8 L625.5 189.6 L624.6 190.6 L623.3 191.7 L621.9 192.7 L620.9 193.3 L620.5 193.6 L620.7 194.4 L621.0 196.1 L621.3 197.8 L621.5 198.6 L620.9 198.7 L619.5 198.9 L617.9 199.2 L616.5 199.6 L614.8 200.3 L613.0 201.1 L611.2 202.0 L609.7 203.2 L608.6 204.5 L608.0 206.1 L607.8 208.0 L607.8 209.9 L608.1 211.8 L608.6 213.5 L609.4 214.9 L610.7 216.5 L612.0 217.9 L613.1 219.0 L613.5 219.4 L613.1 220.0 L612.2 221.5 L610.9 223.5 L609.6 225.6 L608.6 227.4 L607.2 230.0 L605.7 232.8 L604.2 235.7 L602.8 238.6 L601.6 241.3 L600.9 243.4 L600.3 245.8 L599.6 248.2 L598.8 250.4 L597.6 252.2 L596.1 253.4 L594.1 254.5 L592.0 255.4 L590.4 256.0 L589.7 256.2 L589.6 255.4 L589.3 253.3 L588.8 250.5 L588.3 247.7 L587.7 245.3 L586.9 243.0 L585.8 240.6 L584.6 238.1 L583.5 235.7 L582.7 233.4 L582.4 232.3 L582.0 231.0 L581.8 229.8 L581.6 228.5 L581.7 227.4 L582.5 225.4 L583.8 223.4 L585.3 221.4 L586.7 219.5 L587.7 217.5 L588.0 215.8 L588.1 213.9 L588.1 212.0 L588.2 210.1 L588.7 208.5 L589.5 207.4 L590.6 206.5 L591.8 205.5 L592.9 204.6 L593.7 203.5 L594.2 202.4 L594.6 201.1 L594.8 199.8 L594.7 198.6 L594.2 197.6 L593.4 196.6 L592.5 195.6 L591.7 194.6 L591.3 193.6 L591.4 192.2 L591.9 190.8 L592.7 189.6 L594.7 188.4 L597.1 187.6 L599.8 187.1 L602.4 186.6 L604.6 185.7 L605.6 184.9 L606.5 183.8 L607.5 182.7 L608.6 182.1 L611.6 181.9 L615.3 182.5 L618.8 183.5 L621.4 184.3 L622.5 184.7 L622.7 183.9 L623.0 182.2 L623.3 180.5 L623.5 179.7 L622.7 179.4 L620.6 178.7 L617.9 177.6 L615.4 176.2 L613.5 174.7 L612.7 173.5 L612.1 172.2 L611.7 170.7 L611.5 169.2 L611.6 167.8 L612.4 166.0 L613.9 164.4 L615.6 162.9 L617.3 161.4 L618.5 159.8 L619.4 158.0 L620.2 156.0 L620.9 153.9 L621.4 151.9 L621.5 149.9 L621.3 148.6 L620.9 147.2 L620.3 146.0 L619.5 144.9 L618.2 144.0 L616.6 143.2 L615.1 142.7Z" fill="#D7E6AE" stroke="#D7E6AE" stroke-width="0.6" stroke-linejoin="round"/>
<path d="M667.2 82.6 L668.4 83.5 L669.5 85.0 L670.4 86.6 L671.1 87.8 L671.3 88.3 L672.0 88.2 L673.5 87.9 L674.8 87.4 L676.0 86.3 L677.0 84.7 L677.9 83.1 L678.9 81.6 L680.0 80.4 L681.8 79.3 L683.9 78.4 L686.1 77.7 L688.3 77.2 L690.4 77.0 L691.8 77.1 L693.2 77.3 L694.7 77.7 L696.1 78.2 L697.4 78.7 L699.8 79.9 L702.4 81.5 L704.9 83.3 L707.3 85.0 L709.6 86.5 L711.6 87.6 L713.9 88.7 L716.1 89.9 L718.2 91.2 L720.0 92.6 L720.9 93.6 L721.8 94.8 L722.6 96.1 L723.2 97.4 L723.5 98.7 L723.4 100.4 L722.8 102.2 L722.1 104.0 L721.6 105.8 L721.7 107.4 L722.3 108.7 L723.2 109.9 L724.4 111.1 L725.7 112.0 L727.0 112.6 L728.3 112.7 L729.7 112.5 L731.2 112.1 L732.6 111.7 L733.9 111.7 L736.0 112.4 L738.1 113.5 L740.2 114.8 L742.3 116.0 L744.3 117.0 L746.9 117.9 L749.7 118.7 L752.7 119.4 L755.6 119.9 L758.3 120.4 L760.8 120.7 L763.7 120.8 L766.6 120.9 L768.7 121.0 L769.6 121.0 L769.1 121.3 L767.8 122.2 L766.2 123.2 L765.0 124.2 L764.0 125.4 L763.0 126.9 L762.0 128.4 L761.1 129.8 L760.0 131.0 L758.6 132.1 L757.0 133.2 L755.3 134.2 L753.6 135.2 L752.0 136.0 L749.8 137.1 L747.3 138.1 L744.8 139.1 L742.3 140.1 L740.0 141.0 L737.2 142.1 L734.1 143.4 L731.0 144.6 L727.9 145.7 L725.0 146.5 L722.2 147.2 L719.1 147.8 L716.0 148.2 L712.9 148.5 L710.0 148.5 L707.8 148.1 L705.1 147.4 L702.6 146.6 L700.7 146.0 L700.0 145.7 L699.4 145.2 L698.0 143.9 L696.1 142.3 L694.0 140.8 L692.2 139.6 L690.6 138.9 L688.9 138.2 L687.0 137.6 L685.2 137.2 L683.5 137.0 L682.1 137.1 L680.5 137.4 L678.9 137.7 L677.7 138.1 L677.2 138.2 L676.7 138.0 L675.4 137.5 L673.9 136.8 L672.8 136.0 L671.7 134.4 L671.0 132.5 L670.3 130.4 L669.5 128.5 L668.3 127.1 L666.6 126.3 L664.4 126.0 L662.1 125.9 L660.0 125.6 L658.3 124.8 L657.5 123.6 L657.1 122.1 L656.7 120.5 L656.0 119.3 L652.8 117.3 L648.4 115.8 L644.1 114.6 L640.7 113.9 L639.3 113.7 L639.3 113.0 L639.2 111.2 L639.3 108.8 L639.7 106.5 L640.4 104.7 L641.8 103.5 L643.7 102.8 L645.9 102.1 L647.8 101.4 L649.3 100.3 L650.0 98.7 L650.4 96.8 L650.6 94.8 L650.9 92.9 L651.6 91.3 L654.5 88.8 L658.5 86.4 L662.7 84.4 L665.9 83.1Z" fill="#F2F5E7" stroke="#F2F5E7" stroke-width="0.6" stroke-linejoin="round"/>
<path d="M700.0 145.7 L699.2 145.9 L697.4 146.2 L695.7 146.5 L693.7 146.7 L691.5 146.8 L689.3 146.9 L687.2 147.1 L685.2 147.4 L683.6 147.7 L681.9 148.1 L680.3 148.5 L678.7 149.2 L677.4 150.0 L676.5 151.1 L675.7 152.4 L675.1 153.8 L674.8 155.2 L674.8 156.6 L675.1 158.0 L675.6 159.5 L676.1 160.9 L676.5 162.2 L677.0 163.5 L677.5 164.9 L678.1 166.4 L678.6 167.8 L679.1 169.1 L679.5 170.4 L679.9 171.8 L680.3 173.3 L680.6 174.8 L680.9 176.1 L681.1 177.7 L681.2 179.5 L681.4 181.4 L681.5 183.2 L681.7 184.8 L682.0 186.1 L682.3 187.5 L682.7 189.0 L683.1 190.4 L683.5 191.7 L683.8 193.1 L684.0 194.5 L684.3 196.0 L684.7 197.4 L685.2 198.7 L686.0 199.8 L687.0 201.0 L688.1 202.0 L689.3 203.0 L690.4 203.9 L691.7 204.8 L693.2 205.7 L693.9 206.1 L693.1 205.9 L691.0 205.5 L688.2 204.9 L685.4 204.1 L683.1 203.3 L680.9 202.3 L678.5 201.1 L676.2 199.8 L674.2 198.2 L672.5 196.5 L671.5 194.8 L670.8 192.8 L670.2 190.6 L669.7 188.5 L669.3 186.5 L668.5 182.4 L667.6 177.5 L666.9 172.8 L666.4 169.2 L666.2 167.8 L665.8 166.6 L664.7 163.6 L663.5 160.2 L662.4 157.2 L662.0 156.0 L662.5 155.4 L663.8 153.9 L665.6 152.0 L667.6 150.1 L669.3 148.6 L670.5 148.0 L671.8 147.5 L673.2 146.9 L674.5 146.3 L675.5 145.5 L676.2 144.1 L676.7 142.2 L677.0 140.3 L677.2 138.8 L677.2 138.2 L677.7 138.1 L678.9 137.7 L680.5 137.4 L682.1 137.1 L683.5 137.0 L685.2 137.2 L687.0 137.6 L688.9 138.2 L690.6 138.9 L692.2 139.6 L694.0 140.8 L696.1 142.3 L698.0 143.9 L699.4 145.2Z" fill="#F2F5E7" stroke="#F2F5E7" stroke-width="0.6" stroke-linejoin="round"/>
<path d="M628.5 179.7 L629.9 178.2 L631.6 176.8 L633.5 175.6 L635.5 174.5 L637.4 173.7 L638.5 173.3 L639.7 172.9 L641.0 172.6 L642.3 172.5 L643.4 172.7 L644.5 173.4 L645.4 174.6 L646.3 175.8 L647.3 176.7 L648.5 177.2 L650.0 177.6 L651.3 177.7 L652.9 177.6 L654.6 177.4 L656.3 177.0 L657.9 176.4 L659.3 175.7 L661.0 174.2 L662.9 172.2 L664.5 170.1 L665.7 168.5 L666.2 167.8 L667.2 174.0 L668.6 182.0 L669.6 189.0 L664.0 192.5 L640.0 192.5 L631.0 190.0 L627.5 185.0Z" fill="#B9D47A"/>
<path d="M558.9 235.3 L560.4 235.1 L564.0 234.7 L568.3 234.1 L571.9 233.7 L573.4 233.5 L573.6 234.8 L574.1 238.1 L575.1 242.4 L576.5 246.5 L578.4 249.6 L579.8 250.5 L581.7 251.2 L583.7 251.7 L585.2 252.0 L585.8 252.1" fill="none" stroke="#8E967F" stroke-width="1.1" stroke-linejoin="round" stroke-linecap="round"/>
<path d="M585.8 252.1 L585.9 253.0 L586.0 255.4 L586.2 258.6 L586.1 261.8 L585.8 264.5 L584.9 267.0 L583.5 269.5 L582.0 272.0 L580.6 274.5 L579.6 277.0 L579.2 279.3 L579.0 281.9 L578.9 284.5 L578.8 287.1 L578.4 289.4 L577.1 292.8 L575.3 296.3 L573.4 299.8 L571.8 303.3 L570.9 306.8 L571.1 309.2 L571.8 311.7 L572.7 314.3 L573.4 316.8 L573.4 319.2 L572.6 321.0 L571.3 322.8 L569.7 324.5 L568.2 326.2 L567.2 327.9 L566.7 329.7 L566.4 332.0 L566.1 334.2 L566.0 335.9 L566.0 336.6" fill="none" stroke="#8E967F" stroke-width="1.1" stroke-linejoin="round" stroke-linecap="round"/>
<path d="M566.0 336.6 L565.4 337.0 L564.3 337.5 L561.5 337.9 L558.5 337.8 L555.3 337.6 L552.2 337.4 L549.4 337.5 L546.5 337.9 L543.4 338.4 L540.2 339.1 L537.2 340.0 L534.5 341.2 L531.9 343.0 L529.4 345.4 L527.0 348.0 L524.5 350.5 L522.0 352.4 L520.2 353.2 L518.1 353.9 L515.9 354.4 L513.8 355.1 L512.1 356.1 L510.1 357.9 L508.3 360.0 L506.6 362.4 L505.2 364.9 L504.2 367.3 L503.1 372.4 L502.5 378.0 L502.6 383.8 L503.2 389.5 L504.2 394.6 L505.0 396.6 L506.2 398.6 L507.5 400.6 L508.7 402.5 L509.6 404.5 L510.1 406.4 L510.6 408.4 L510.9 410.5 L511.0 412.6 L510.9 414.5 L510.0 418.5 L508.5 422.7 L506.6 426.9 L504.4 430.8 L502.2 434.3 L500.5 436.4 L498.2 438.7 L496.0 440.8 L494.2 442.4 L493.5 443.0" fill="none" stroke="#8E967F" stroke-width="1.1" stroke-linejoin="round" stroke-linecap="round"/>
<path d="M566.0 336.6 L566.6 336.9 L568.1 337.8 L570.0 339.0 L571.9 340.3 L573.4 341.6 L574.7 343.4 L575.9 345.5 L577.0 347.7 L578.2 349.8 L579.6 351.5 L580.8 352.5 L582.5 353.5 L584.1 354.3 L585.3 355.0 L585.8 355.2" fill="none" stroke="#8E967F" stroke-width="1.1" stroke-linejoin="round" stroke-linecap="round"/>
<path d="M614.5 142.5 L615.1 142.7 L616.6 143.2 L618.2 144.0 L619.5 144.9 L620.3 146.0 L620.9 147.2 L621.3 148.6 L621.5 149.9 L621.4 151.9 L620.9 153.9 L620.2 156.0 L619.4 158.0 L618.5 159.8 L617.3 161.4 L615.6 162.9 L613.9 164.4 L612.4 166.0 L611.6 167.8 L611.5 169.2 L611.7 170.7 L612.1 172.2 L612.7 173.5 L613.5 174.7 L615.4 176.2 L617.9 177.6 L620.6 178.7 L622.7 179.4 L623.5 179.7 L623.3 180.5 L623.0 182.2 L622.7 183.9 L622.5 184.7 L621.4 184.3 L618.8 183.5 L615.3 182.5 L611.6 181.9 L608.6 182.1 L607.5 182.7 L606.5 183.8 L605.6 184.9 L604.6 185.7 L602.4 186.6 L599.8 187.1 L597.1 187.6 L594.7 188.4 L592.7 189.6 L591.9 190.8 L591.4 192.2 L591.3 193.6 L591.7 194.6 L592.5 195.6 L593.4 196.6 L594.2 197.6 L594.7 198.6 L594.8 199.8 L594.6 201.1 L594.2 202.4 L593.7 203.5 L592.9 204.6 L591.8 205.5 L590.6 206.5 L589.5 207.4 L588.7 208.5 L588.2 210.1 L588.1 212.0 L588.1 213.9 L588.0 215.8 L587.7 217.5 L586.7 219.5 L585.3 221.4 L583.8 223.4 L582.5 225.4 L581.7 227.4 L581.6 228.5 L581.8 229.8 L582.0 231.0 L582.4 232.3 L582.7 233.4 L583.5 235.7 L584.6 238.1 L585.8 240.6 L586.9 243.0 L587.7 245.3 L588.3 247.7 L588.8 250.5 L589.3 253.3 L589.6 255.4 L589.7 256.2" fill="none" stroke="#8E967F" stroke-width="1.1" stroke-linejoin="round" stroke-linecap="round"/>
<path d="M585.8 252.1 L589.7 256.2" fill="none" stroke="#8E967F" stroke-width="1.1" stroke-linejoin="round" stroke-linecap="round"/>
<path d="M589.7 256.2 L590.4 256.0 L592.0 255.4 L594.1 254.5 L596.1 253.4 L597.6 252.2 L598.8 250.4 L599.6 248.2 L600.3 245.8 L600.9 243.4 L601.6 241.3 L602.8 238.6 L604.2 235.7 L605.7 232.8 L607.2 230.0 L608.6 227.4 L609.6 225.6 L610.9 223.5 L612.2 221.5 L613.1 220.0 L613.5 219.4 L613.1 219.0 L612.0 217.9 L610.7 216.5 L609.4 214.9 L608.6 213.5 L608.1 211.8 L607.8 209.9 L607.8 208.0 L608.0 206.1 L608.6 204.5 L609.7 203.2 L611.2 202.0 L613.0 201.1 L614.8 200.3 L616.5 199.6 L617.9 199.2 L619.5 198.9 L620.9 198.7 L621.5 198.6 L621.3 197.8 L621.0 196.1 L620.7 194.4 L620.5 193.6 L620.9 193.3 L621.9 192.7 L623.3 191.7 L624.6 190.6 L625.5 189.6 L626.3 187.8 L626.8 185.7 L627.1 183.5 L627.6 181.4 L628.5 179.7 L629.9 178.2 L631.6 176.8 L633.5 175.6 L635.5 174.5 L637.4 173.7 L638.5 173.3 L639.7 172.9 L641.0 172.6 L642.3 172.5 L643.4 172.7 L644.5 173.4 L645.4 174.6 L646.3 175.8 L647.3 176.7 L648.5 177.2 L650.0 177.6 L651.3 177.7 L652.9 177.6 L654.6 177.4 L656.3 177.0 L657.9 176.4 L659.3 175.7 L661.0 174.2 L662.9 172.2 L664.5 170.1 L665.7 168.5 L666.2 167.8" fill="none" stroke="#8E967F" stroke-width="1.1" stroke-linejoin="round" stroke-linecap="round"/>
<path d="M666.2 167.8 L666.4 169.2 L666.9 172.8 L667.6 177.5 L668.5 182.4 L669.3 186.5 L669.7 188.5 L670.2 190.6 L670.8 192.8 L671.5 194.8 L672.5 196.5 L674.2 198.2 L676.2 199.8 L678.5 201.1 L680.9 202.3 L683.1 203.3 L685.4 204.1 L688.2 204.9 L691.0 205.5 L693.1 205.9 L693.9 206.1" fill="none" stroke="#8E967F" stroke-width="1.1" stroke-linejoin="round" stroke-linecap="round"/>
<path d="M666.2 167.8 L665.8 166.6 L664.7 163.6 L663.5 160.2 L662.4 157.2 L662.0 156.0 L662.5 155.4 L663.8 153.9 L665.6 152.0 L667.6 150.1 L669.3 148.6 L670.5 148.0 L671.8 147.5 L673.2 146.9 L674.5 146.3 L675.5 145.5 L676.2 144.1 L676.7 142.2 L677.0 140.3 L677.2 138.8 L677.2 138.2" fill="none" stroke="#8E967F" stroke-width="1.1" stroke-linejoin="round" stroke-linecap="round"/>
<path d="M677.2 138.2 L676.7 138.0 L675.4 137.5 L673.9 136.8 L672.8 136.0 L671.7 134.4 L671.0 132.5 L670.3 130.4 L669.5 128.5 L668.3 127.1 L666.6 126.3 L664.4 126.0 L662.1 125.9 L660.0 125.6 L658.3 124.8 L657.5 123.6 L657.1 122.1 L656.7 120.5 L656.0 119.3 L652.8 117.3 L648.4 115.8 L644.1 114.6 L640.7 113.9 L639.3 113.7 L639.3 113.0 L639.2 111.2 L639.3 108.8 L639.7 106.5 L640.4 104.7 L641.8 103.5 L643.7 102.8 L645.9 102.1 L647.8 101.4 L649.3 100.3 L650.0 98.7 L650.4 96.8 L650.6 94.8 L650.9 92.9 L651.6 91.3 L654.5 88.8 L658.5 86.4 L662.7 84.4 L665.9 83.1 L667.2 82.6" fill="none" stroke="#8E967F" stroke-width="1.1" stroke-linejoin="round" stroke-linecap="round"/>
<path d="M677.2 138.2 L677.7 138.1 L678.9 137.7 L680.5 137.4 L682.1 137.1 L683.5 137.0 L685.2 137.2 L687.0 137.6 L688.9 138.2 L690.6 138.9 L692.2 139.6 L694.0 140.8 L696.1 142.3 L698.0 143.9 L699.4 145.2 L700.0 145.7" fill="none" stroke="#8E967F" stroke-width="1.1" stroke-linejoin="round" stroke-linecap="round"/>
<path d="M769.6 121.0 L769.1 121.3 L767.8 122.2 L766.2 123.2 L765.0 124.2 L764.0 125.4 L763.0 126.9 L762.0 128.4 L761.1 129.8 L760.0 131.0 L758.6 132.1 L757.0 133.2 L755.3 134.2 L753.6 135.2 L752.0 136.0 L749.8 137.1 L747.3 138.1 L744.8 139.1 L742.3 140.1 L740.0 141.0 L737.2 142.1 L734.1 143.4 L731.0 144.6 L727.9 145.7 L725.0 146.5 L722.2 147.2 L719.1 147.8 L716.0 148.2 L712.9 148.5 L710.0 148.5 L707.8 148.1 L705.1 147.4 L702.6 146.6 L700.7 146.0 L700.0 145.7" fill="none" stroke="#DDE1D0" stroke-width="0.7"/>
<path d="M700.0 145.7 L699.2 145.9 L697.4 146.2 L695.7 146.5 L693.7 146.7 L691.5 146.8 L689.3 146.9 L687.2 147.1 L685.2 147.4 L683.6 147.7 L681.9 148.1 L680.3 148.5 L678.7 149.2 L677.4 150.0 L676.5 151.1 L675.7 152.4 L675.1 153.8 L674.8 155.2 L674.8 156.6 L675.1 158.0 L675.6 159.5 L676.1 160.9 L676.5 162.2 L677.0 163.5 L677.5 164.9 L678.1 166.4 L678.6 167.8 L679.1 169.1 L679.5 170.4 L679.9 171.8 L680.3 173.3 L680.6 174.8 L680.9 176.1 L681.1 177.7 L681.2 179.5 L681.4 181.4 L681.5 183.2 L681.7 184.8 L682.0 186.1 L682.3 187.5 L682.7 189.0 L683.1 190.4 L683.5 191.7 L683.8 193.1 L684.0 194.5 L684.3 196.0 L684.7 197.4 L685.2 198.7 L686.0 199.8 L687.0 201.0 L688.1 202.0 L689.3 203.0 L690.4 203.9 L691.7 204.8 L693.2 205.7 L693.9 206.1" fill="none" stroke="#C9CBC1" stroke-width="1.7" stroke-dasharray="0.01 3.3" stroke-linecap="round"/>
<path d="M693.9 206.1 L693.9 206.7 L694.0 208.1 L694.2 209.8 L694.6 211.6 L695.3 212.9 L696.5 213.6 L698.1 214.0 L699.6 214.2 L700.8 214.4 L702.1 214.5 L703.4 214.6 L704.6 214.8 L705.8 215.1 L707.2 215.4 L708.5 215.8 L709.6 216.3 L710.7 217.1 L711.8 218.1 L712.7 219.1 L713.3 220.0 L713.8 221.1 L713.9 222.2 L713.5 223.3 L712.8 224.4 L712.0 225.3 L711.1 225.9 L709.9 226.4 L708.8 226.8 L707.7 227.2 L706.6 227.7 L705.5 228.2 L704.4 228.7 L703.4 229.3 L702.4 230.0 L701.3 230.8 L700.3 231.7 L699.3 232.6 L698.4 233.4 L697.6 234.2 L696.7 235.1 L695.9 236.1 L695.3 237.1 L694.9 238.1 L694.7 239.2 L694.7 240.2 L695.3 241.5 L696.3 242.7 L696.9 244.0 L696.9 245.2 L696.6 246.4 L696.2 247.7 L696.1 248.9 L696.2 250.1 L696.5 251.5 L696.9 252.7 L697.4 253.9 L698.2 255.2 L699.1 256.4 L699.6 257.0 L698.3 258.4 L695.1 262.1 L691.1 267.1 L687.0 272.3 L684.0 277.0 L683.5 278.4 L683.1 280.0 L682.7 281.6 L682.2 283.1 L681.5 284.4 L679.2 286.4 L676.2 288.0 L673.0 289.4 L670.0 291.1 L667.8 293.1 L666.6 295.5 L666.0 298.3 L665.6 301.4 L665.0 304.3 L664.1 306.8 L660.6 312.0 L656.0 317.1 L651.0 322.1 L646.1 326.9 L641.7 331.6 L639.7 333.9 L637.5 336.3 L635.4 338.9 L633.4 341.5 L631.8 344.0 L631.3 345.4 L630.9 347.1 L630.6 348.8 L630.1 350.3 L629.3 351.5 L623.6 354.7 L615.9 356.8 L608.0 358.1 L601.9 358.7 L599.5 358.9 L599.0 358.3 L597.7 356.7 L596.3 354.9 L595.0 353.3 L594.5 352.7 L593.8 352.8 L592.1 353.2 L589.9 353.7 L587.6 354.4 L585.8 355.2 L584.9 355.9 L584.0 356.8 L583.1 357.8 L582.4 358.8 L581.7 359.8 L580.7 361.7 L579.7 363.8 L578.8 365.9 L577.8 368.0 L576.7 369.8 L575.1 371.3 L573.2 372.7 L571.2 374.1 L569.3 375.5 L568.0 377.2 L567.3 379.0 L566.8 381.0 L566.5 383.1 L566.5 385.2 L566.8 387.1 L567.3 388.7 L568.1 390.4 L569.2 392.1 L570.4 393.5 L571.7 394.6 L574.2 395.7 L577.5 396.4 L580.7 396.8 L583.2 397.0 L584.2 397.1 L584.2 398.2 L584.3 401.1 L584.5 404.9 L584.9 408.8 L585.4 412.0 L586.0 414.0 L587.0 416.3 L588.0 418.4 L588.8 420.1 L589.1 420.7 L590.1 420.6 L592.6 420.2 L595.6 419.9 L598.1 419.5 L599.1 419.4 L599.1 420.0 L599.0 421.4 L598.9 423.3 L598.9 425.3 L599.1 426.9 L599.8 429.3 L600.7 431.9 L601.8 434.5 L603.0 437.0 L604.0 439.3 L605.3 442.1 L606.8 445.1 L608.3 448.2 L609.5 451.2 L610.2 454.2 L610.3 455.4 L610.2 456.7 L609.9 458.1 L609.5 459.3 L609.0 460.4 L608.0 461.5 L606.8 462.6 L605.4 463.4 L604.0 463.7 L602.2 463.3 L600.5 462.2 L598.8 460.9 L597.0 459.8 L595.3 459.2 L591.6 459.7 L587.9 461.2 L584.1 463.1 L580.3 465.0 L576.7 466.1 L569.7 466.6 L561.2 466.5 L553.0 466.1 L546.8 465.6 L544.4 465.4 L544.4 466.1 L544.4 467.8 L544.2 470.1 L543.9 472.3 L543.2 474.1 L541.6 475.6 L539.4 476.7 L537.0 477.7 L534.8 478.8 L533.2 480.3 L532.6 481.8 L532.2 483.7 L532.0 485.3 L532.0 486.0 L531.2 485.6 L529.3 484.5 L526.8 483.1 L524.2 481.6 L522.0 480.3 L520.1 479.2 L517.9 478.1 L515.8 476.8 L513.8 475.5 L512.1 474.1 L510.6 472.4 L509.2 470.5 L507.9 468.4 L506.8 466.2 L505.9 464.2 L505.3 461.4 L505.0 458.2 L504.9 455.0 L504.5 451.9 L503.4 449.3 L501.8 447.8 L499.7 446.6 L497.4 445.5 L495.2 444.4 L493.5 443.0 L492.8 441.9 L492.3 440.7 L491.8 439.3 L491.4 438.0 L491.0 436.8 L490.4 434.9 L489.8 432.7 L489.2 430.5 L488.4 428.5 L487.3 426.9 L486.1 425.8 L484.7 424.9 L483.0 424.1 L481.4 423.5 L479.8 423.2 L476.3 423.3 L472.6 424.2 L468.8 425.5 L465.2 426.7 L461.7 427.6 L457.5 428.2 L452.9 428.7 L448.2 429.2 L443.6 429.6 L439.3 430.1 L436.5 430.5 L433.4 431.1 L430.3 431.7 L427.3 432.2 L424.4 432.5 L416.6 433.0 L408.2 433.2 L399.6 433.2 L391.2 433.0 L383.4 432.5 L380.8 432.1 L378.0 431.6 L375.2 431.0 L372.4 430.5 L369.8 430.1 L366.1 429.9 L361.7 429.9 L357.4 430.0 L354.2 430.1 L352.9 430.1 L352.9 429.1 L353.0 426.6 L353.3 423.4 L353.8 420.1 L354.8 417.6 L355.7 416.7 L356.9 416.1 L358.3 415.5 L359.5 414.8 L360.3 413.9 L360.8 412.1 L360.8 410.1 L360.5 408.0 L360.3 405.9 L360.3 404.0 L360.6 402.6 L361.1 401.0 L361.7 399.4 L362.1 398.3 L362.3 397.8 L363.0 397.8 L364.7 397.7 L367.0 397.6 L369.2 397.2 L371.0 396.5 L371.9 395.4 L372.6 394.0 L373.5 392.8 L374.6 392.1 L375.8 391.5 L377.1 391.1 L378.5 390.6 L379.7 390.3 L382.5 389.7 L385.6 389.3 L388.8 389.0 L391.8 388.5 L394.6 387.8 L395.8 387.4 L397.1 386.8 L398.2 386.2 L399.1 385.3 L399.9 383.6 L400.4 381.6 L400.6 379.4 L400.5 377.3 L400.1 375.4 L399.4 374.1 L398.3 373.0 L397.1 372.2 L395.4 371.7 L393.2 371.6 L391.1 371.6 L389.5 371.7 L388.9 371.7 L388.9 368.7 L388.9 361.4 L388.9 352.7 L388.9 345.4 L388.9 342.4 L388.4 342.2 L387.1 341.7 L385.4 340.9 L383.6 340.1 L382.2 339.4 L380.0 337.9 L377.7 336.0 L375.4 334.1 L373.2 332.3 L371.0 330.7 L369.1 329.7 L367.0 328.8 L364.8 328.0 L362.8 326.9 L361.1 325.7 L355.9 318.9 L350.9 309.9 L346.5 300.8 L343.5 293.7 L342.4 290.9 L346.7 292.4 L356.8 296.1 L369.0 300.6 L379.1 304.3 L383.4 305.8 L385.6 305.6 L391.0 305.2 L398.3 304.8 L405.8 304.7 L412.0 305.1 L415.1 305.8 L418.7 307.0 L422.1 308.2 L424.7 309.2 L425.7 309.6 L426.1 309.1 L427.0 308.0 L428.2 306.7 L429.4 305.8 L431.2 305.0 L433.2 304.4 L435.3 303.9 L437.4 303.6 L439.3 303.4 L442.1 303.4 L445.2 303.6 L448.3 304.0 L451.4 304.2 L454.2 304.1 L457.1 303.6 L460.2 302.7 L463.3 301.7 L466.3 300.6 L469.1 299.6 L472.1 298.7 L475.4 297.8 L478.7 296.7 L481.7 295.3 L484.0 293.4 L484.6 292.4 L484.9 291.1 L485.1 289.8 L485.2 288.4 L485.3 287.2 L485.1 283.4 L484.3 279.2 L483.5 274.9 L483.2 270.9 L484.0 267.3 L484.7 266.3 L485.6 265.5 L486.7 264.8 L487.9 264.1 L489.0 263.6 L490.9 263.0 L493.0 262.7 L495.2 262.5 L497.2 262.0 L498.9 261.1 L499.7 259.9 L500.4 258.3 L501.0 256.7 L501.3 255.4 L501.4 254.9 L502.0 255.0 L503.4 255.1 L505.3 255.3 L507.3 255.4 L508.9 255.4 L510.4 255.3 L512.0 255.1 L513.6 254.9 L515.1 254.4 L516.3 253.7 L517.0 252.7 L517.4 251.4 L517.8 249.9 L518.2 248.6 L518.8 247.5 L520.0 246.5 L521.5 245.7 L523.2 245.0 L524.8 244.4 L526.3 243.7 L527.5 242.9 L528.7 242.1 L529.9 241.1 L531.2 240.3 L532.4 239.7 L533.8 239.2 L535.3 238.8 L536.9 238.5 L538.5 238.4 L540.0 238.3 L541.9 238.6 L543.9 239.1 L546.0 239.8 L548.0 240.3 L549.9 240.3 L551.8 239.8 L553.9 239.1 L555.8 238.0 L557.6 236.7 L558.9 235.3 L559.5 234.0 L559.8 232.5 L559.9 230.9 L559.9 229.4 L559.6 227.5 L559.0 225.4 L558.4 223.3 L557.9 221.3 L557.9 219.4 L558.6 216.9 L559.8 214.3 L561.4 211.8 L563.1 209.5 L564.8 207.5 L566.5 205.9 L568.5 204.5 L570.6 203.1 L572.8 201.8 L574.8 200.6 L576.3 199.9 L578.1 199.2 L579.9 198.5 L581.5 197.7 L582.7 196.6 L583.6 195.1 L584.4 193.3 L584.8 191.3 L585.0 189.3 L584.7 187.6 L583.7 185.8 L582.1 184.2 L580.2 182.7 L578.3 181.3 L576.8 179.7 L575.9 178.2 L575.1 176.5 L574.8 175.7 L575.4 175.4 L576.7 174.8 L578.4 174.2 L579.8 173.7 L583.9 173.3 L588.5 173.5 L593.2 173.8 L597.6 173.7 L601.6 172.7 L602.9 172.0 L604.2 171.1 L605.4 170.0 L606.4 168.8 L607.0 167.5 L607.1 165.2 L606.4 162.6 L605.4 160.0 L604.6 157.4 L604.5 155.0 L605.1 153.0 L606.0 150.9 L607.2 148.9 L608.6 147.1 L610.0 145.5 L611.0 144.7 L612.2 144.0 L613.5 143.3 L614.5 142.5 L615.3 141.6 L616.1 140.5 L616.9 139.3 L617.5 138.1 L618.0 137.0 L618.6 135.3 L619.1 133.5 L619.4 131.6 L619.6 129.7 L619.6 128.0 L619.2 126.0 L618.6 123.9 L617.8 121.9 L616.8 119.9 L615.8 118.1 L614.5 116.3 L612.8 114.2 L611.0 112.3 L609.6 110.9 L609.1 110.3 L609.5 109.6 L610.4 107.8 L611.7 105.4 L613.2 103.1 L614.7 101.4 L617.0 100.0 L619.8 98.9 L622.7 97.9 L625.6 97.0 L628.1 95.8 L629.7 94.6 L631.2 93.2 L632.7 91.6 L634.3 90.2 L635.9 89.1 L639.1 87.6 L642.7 86.2 L646.5 85.1 L650.3 84.2 L653.8 83.5 L656.4 83.0 L659.2 82.4 L662.0 82.0 L664.8 82.0 L667.2 82.6 L668.4 83.5 L669.5 85.0 L670.4 86.6 L671.1 87.8 L671.3 88.3 L672.0 88.2 L673.5 87.9 L674.8 87.4 L676.0 86.3 L677.0 84.7 L677.9 83.1 L678.9 81.6 L680.0 80.4 L681.8 79.3 L683.9 78.4 L686.1 77.7 L688.3 77.2 L690.4 77.0 L691.8 77.1 L693.2 77.3 L694.7 77.7 L696.1 78.2 L697.4 78.7 L699.8 79.9 L702.4 81.5 L704.9 83.3 L707.3 85.0 L709.6 86.5 L711.6 87.6 L713.9 88.7 L716.1 89.9 L718.2 91.2 L720.0 92.6 L720.9 93.6 L721.8 94.8 L722.6 96.1 L723.2 97.4 L723.5 98.7 L723.4 100.4 L722.8 102.2 L722.1 104.0 L721.6 105.8 L721.7 107.4 L722.3 108.7 L723.2 109.9 L724.4 111.1 L725.7 112.0 L727.0 112.6 L728.3 112.7 L729.7 112.5 L731.2 112.1 L732.6 111.7 L733.9 111.7 L736.0 112.4 L738.1 113.5 L740.2 114.8 L742.3 116.0 L744.3 117.0 L746.9 117.9 L749.7 118.7 L752.7 119.4 L755.6 119.9 L758.3 120.4 L760.8 120.7 L763.7 120.8 L766.6 120.9 L768.7 121.0 L769.6 121.0" fill="none" stroke="#231F20" stroke-width="1.7" stroke-linejoin="round" stroke-linecap="round"/>
<polygon points="655.9,174.8 657.4,178.9 661.8,179.1 658.4,181.8 659.5,186.0 655.9,183.6 652.3,186.0 653.4,181.8 650.0,179.1 654.4,178.9" fill="#231F20"/>
<text x="650.1" y="191.6" font-family='"Liberation Sans", "DejaVu Sans", sans-serif' font-size="8.3" font-weight="bold" fill="#231F20" text-anchor="middle" textLength="40" lengthAdjust="spacingAndGlyphs">Islamabad</text>
<text x="435.6" y="338.1" font-family='"Liberation Sans", "DejaVu Sans", sans-serif' font-size="11.5" font-weight="bold" fill="#4D4D4F" textLength="67.6" lengthAdjust="spacingAndGlyphs">Balochistan</text>
<text x="535" y="434.8" font-family='"Liberation Sans", "DejaVu Sans", sans-serif' font-size="11.5" font-weight="bold" fill="#4D4D4F" textLength="31.8" lengthAdjust="spacingAndGlyphs">Sindh</text>
<text x="618.9" y="272" font-family='"Liberation Sans", "DejaVu Sans", sans-serif' font-size="11.5" font-weight="bold" fill="#4D4D4F" textLength="39" lengthAdjust="spacingAndGlyphs">Punjab</text>
<text x="521.8" y="118.3" font-family='"Liberation Sans", "DejaVu Sans", sans-serif' font-size="10.8" font-weight="bold" fill="#4D4D4F" textLength="40.8" lengthAdjust="spacingAndGlyphs">Khyber</text>
<text x="521.8" y="132.3" font-family='"Liberation Sans", "DejaVu Sans", sans-serif' font-size="10.8" font-weight="bold" fill="#4D4D4F" textLength="78.1" lengthAdjust="spacingAndGlyphs">Pakhtunkhwa</text>
<path d="M604.3 129.8 H634.1 M566.5 178.1 H595.3 M674.8 172.4 H700.9 M685.3 199.3 H701.1" stroke="#58595B" stroke-width="0.9" fill="none"/>
<text x="647.8" y="112.3" font-family='"Liberation Sans", "DejaVu Sans", sans-serif' font-size="9.4" font-weight="bold" fill="#4D4D4F" textLength="68.2" lengthAdjust="spacingAndGlyphs">Gilgit-Baltistan</text>
<text x="706.6" y="135" font-family='"Liberation Sans", "DejaVu Sans", sans-serif' font-size="9" font-weight="normal" fill="#6D6E71" textLength="63.3" lengthAdjust="spacingAndGlyphs">Gilgit-Baltistan</text>
<text x="706.6" y="144.6" font-family='"Liberation Sans", "DejaVu Sans", sans-serif' font-size="9" font-weight="normal" fill="#6D6E71" textLength="52.6" lengthAdjust="spacingAndGlyphs">and PoK are</text>
<text x="706.6" y="154.2" font-family='"Liberation Sans", "DejaVu Sans", sans-serif' font-size="9" font-weight="normal" fill="#6D6E71" textLength="82.9" lengthAdjust="spacingAndGlyphs">occupied territories</text>
<text x="705.9" y="174.4" font-family='"Liberation Sans", "DejaVu Sans", sans-serif' font-size="9" font-weight="bold" fill="#4D4D4F" textLength="86.3" lengthAdjust="spacingAndGlyphs">Pakistan Occupied</text>
<text x="705.9" y="183.9" font-family='"Liberation Sans", "DejaVu Sans", sans-serif' font-size="9" font-weight="bold" fill="#4D4D4F" textLength="65.6" lengthAdjust="spacingAndGlyphs">Kashmir (PoK)</text>
<text x="705.9" y="202.4" font-family='"Liberation Sans", "DejaVu Sans", sans-serif' font-size="9" font-weight="normal" fill="#6D6E71" textLength="88.8" lengthAdjust="spacingAndGlyphs">Line of Control (LoC)</text>
<text x="492.4" y="170" font-family='"Liberation Sans", "DejaVu Sans", sans-serif' font-size="10.8" font-weight="normal" fill="#6D6E71" textLength="45.9" lengthAdjust="spacingAndGlyphs">Federally</text>
<text x="492.4" y="181.5" font-family='"Liberation Sans", "DejaVu Sans", sans-serif' font-size="10.8" font-weight="normal" fill="#6D6E71" textLength="69.8" lengthAdjust="spacingAndGlyphs">administrated</text>
<text x="492.4" y="193" font-family='"Liberation Sans", "DejaVu Sans", sans-serif' font-size="10.8" font-weight="normal" fill="#6D6E71" textLength="55.9" lengthAdjust="spacingAndGlyphs">tribal areas</text>
</g>
</svg></body></html>
